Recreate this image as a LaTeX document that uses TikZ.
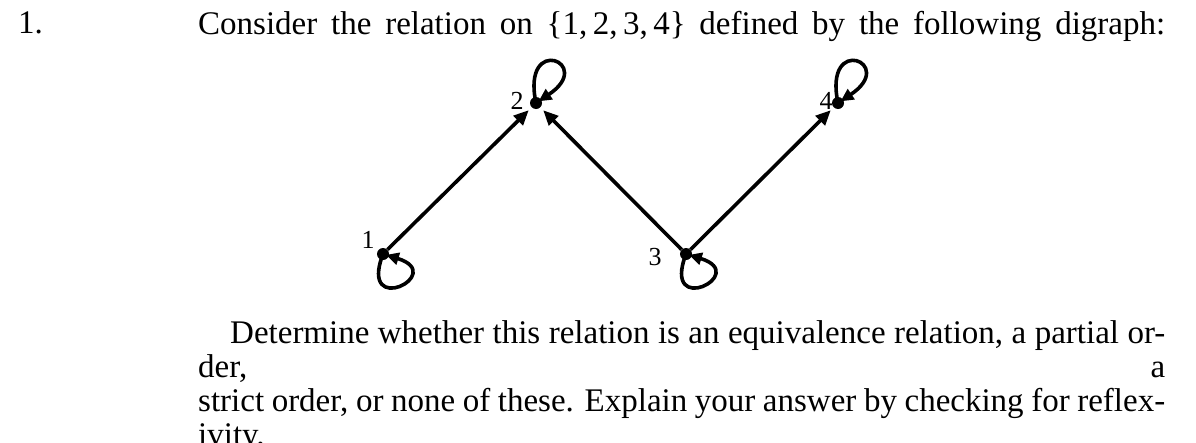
\documentclass[tikz,border=0pt]{standalone}
\usepackage{fontspec}
\setmainfont{Liberation Serif}
\usetikzlibrary{arrows.meta}
\begin{document}
\begin{tikzpicture}[x=1pt,y=-1pt,
  dot/.style={circle,fill,inner sep=0pt,minimum size=12pt},
  lbl/.style={inner sep=0pt,font=\fontsize{26}{30}\selectfont},
  edge/.style={line width=3.6pt,-{Triangle[length=15pt,width=13pt]},shorten >=4pt},
  loopy/.style={line width=3.6pt,-{Triangle[length=13pt,width=12pt]},shorten >=3pt},
  txt/.style={inner sep=0pt,anchor=north west,font=\fontsize{33}{34}\selectfont}]
\useasboundingbox (0,0) rectangle (1196,442);
\node[txt] (num) at (18,12) {1.};
\node[txt] (head) at (198,11) {\makebox[967pt][s]{Consider the relation on \{1,\,2,\,3,\,4\} defined by the following digraph:}};
\node[dot] (n1) at (383,254) {};
\node[dot] (n2) at (536,103) {};
\node[dot] (n3) at (686,254) {};
\node[dot] (n4) at (838,103) {};
\node[lbl] (l1) at (368,240) {1};
\node[lbl] (l2) at (517,101) {2};
\node[lbl] (l3) at (655,257) {3};
\node[lbl] (l4) at (826,101) {4};
\draw[edge] (n1) -- (n2);
\draw[edge] (n3) -- (n2);
\draw[edge] (n3) -- (n4);
\draw[loopy] (n2.center) .. controls +(-15,-70) and +(60,-40) .. (n2.center);
\draw[loopy] (n4.center) .. controls +(-15,-70) and +(60,-40) .. (n4.center);
\draw[loopy] (n1.center) .. controls +(-25,65) and +(65,20) .. (n1.center);
\draw[loopy] (n3.center) .. controls +(-25,65) and +(65,20) .. (n3.center);
\node[txt,text width=967pt,align=justify] (para) at (198,320)
 {\hspace*{32pt}Determine whether this relation is an equivalence relation, a partial order, a\linebreak strict order, or none of these. Explain your answer by checking for reflexivity,\linebreak antireflexivity, symmetry, antisymmetry and transitivity.};
\end{tikzpicture}
\end{document}
